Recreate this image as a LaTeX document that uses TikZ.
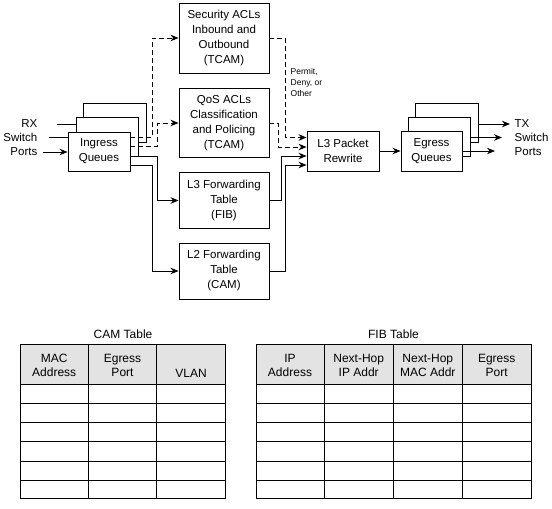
\documentclass[tikz,border=0pt]{standalone}
\usepackage{fontspec}
\setmainfont{Liberation Sans}
\usetikzlibrary{arrows.meta}
\begin{document}
\begin{tikzpicture}[x=1pt,y=-1pt,
  ln/.style={line width=0.9pt},
  box/.style={draw,line width=0.9pt,fill=white,align=center,inner sep=0pt,font=\fontsize{11.5}{15}\selectfont},
  blank/.style={draw,line width=0.9pt,fill=white,inner sep=0pt},
  arr/.style={-{Stealth[length=8pt,width=6.5pt]}},
  dsh/.style={dash pattern=on 5pt off 3pt},
  lbl/.style={font=\fontsize{11.5}{14}\selectfont,inner sep=0pt},
  hdr/.style={font=\fontsize{12}{14.5}\selectfont,align=center,inner sep=0pt},
]
\useasboundingbox (0,0) rectangle (552,509);

% ---- ingress queues
\node[blank,minimum width=63pt,minimum height=39pt] (ing3) at (114.5,122.5) {};
\node[blank,minimum width=62pt,minimum height=39pt] (ing2) at (107,136.5) {};
\node[box,minimum width=62pt,minimum height=39pt] (ing) at (99,151.5) {Ingress\\Queues};

% ---- egress queues
\node[blank,minimum width=63pt,minimum height=39pt] (egr3) at (446.5,122.5) {};
\node[blank,minimum width=62pt,minimum height=39pt] (egr2) at (439,136.5) {};
\node[box,minimum width=61pt,minimum height=40pt] (egr) at (431.5,151) {Egress\\Queues};

% ---- function boxes
\node[box,minimum width=90pt,minimum height=70pt] (sec) at (224,38) {Security ACLs\\Inbound and\\Outbound\\(TCAM)};
\node[box,minimum width=90pt,minimum height=69pt] (qos) at (224,123) {QoS ACLs\\Classification\\and Policing\\(TCAM)};
\node[box,minimum width=90pt,minimum height=56pt] (l3f) at (224,200.5) {L3 Forwarding\\Table\\(FIB)};
\node[box,minimum width=90pt,minimum height=56pt] (l2f) at (224,271) {L2 Forwarding\\Table\\(CAM)};
\node[box,minimum width=72pt,minimum height=40pt] (rw) at (343,151) {L3 Packet\\Rewrite};

% ---- side labels
\node[lbl,align=right,anchor=east] (rx) at (37.5,138) {RX\\Switch\\Ports};
\node[lbl,align=left,anchor=west] (tx) at (514.5,138) {TX\\Switch\\Ports};
\node[font=\fontsize{8.5}{10.8}\selectfont,align=left,anchor=west,inner sep=0pt] (pdo) at (290.5,82.5) {Permit,\\Deny, or\\Other};

% ---- inputs
\coordinate (rx1) at (57,124);
\coordinate (rx2) at (49,137.5);
\coordinate (rx3) at (43,152);
\draw[ln] (rx1) -- (ing2.west |- rx1);
\draw[ln] (rx2) -- (ing.west |- rx2);
\draw[ln,arr] (rx3) -- (ing.west |- rx3);

% ---- ingress to tables
\coordinate (a1) at (152,38);
\coordinate (a2) at (157.5,123);
\coordinate (a3) at (157,200.5);
\coordinate (a4) at (152,271);
\draw[ln,dsh,arr] (ing.east |- 0,137.5) -| (a1) -- (sec.west);
\draw[ln,dsh,arr] (ing.east |- 0,146.5) -| (a2) -- (qos.west);
\draw[ln,arr] (ing.east |- 0,156.5) -| (a3) -- (l3f.west);
\draw[ln,arr] (ing.east |- 0,165) -| (a4) -- (l2f.west);

% ---- tables to rewrite
\coordinate (b1) at (285.5,137.5);
\coordinate (b2) at (278,147);
\coordinate (b3) at (281.5,156);
\coordinate (b4) at (285.5,165);
\draw[ln,dsh,arr] (sec.east) -| (b1) -- (rw.west |- b1);
\draw[ln,dsh,arr] (qos.east) -| (b2) -- (rw.west |- b2);
\draw[ln,arr] (l3f.east) -| (b3) -- (rw.west |- b3);
\draw[ln,arr] (l2f.east) -| (b4) -- (rw.west |- b4);

% ---- rewrite to egress
\draw[ln,arr] (rw.east) -- (egr.west);

% ---- outputs
\coordinate (tx1) at (510,124);
\coordinate (tx2) at (502,137.5);
\coordinate (tx3) at (495,151);
\draw[ln,arr] (egr3.east |- tx1) -- (tx1);
\draw[ln,arr] (egr2.east |- tx2) -- (tx2);
\draw[ln,arr] (egr.east |- tx3) -- (tx3);

% ---- CAM table
\node[hdr] (camt) at (123,334) {CAM Table};
\fill[gray!22] (20,344.3) rectangle (225.3,384);
\draw[ln] (20,344.3) rectangle (225.3,498.3);
\foreach \yy in {384,403.3,422.3,441.7,461,480}
  \draw[ln] (20,\yy) -- (225.3,\yy);
\foreach \xx in {88.3,156.7}
  \draw[ln] (\xx,344.3) -- (\xx,498.3);
\node[hdr] (c1) at (54.2,365.5) {MAC\\Address};
\node[hdr] (c2) at (122.5,365.5) {Egress\\Port};
\node[hdr] (c3) at (191,373) {VLAN};

% ---- FIB table
\node[hdr] (fibt) at (393.5,334) {FIB Table};
\fill[gray!22] (256,344.3) rectangle (531,384);
\draw[ln] (256,344.3) rectangle (531,498.3);
\foreach \yy in {384,403.3,422.3,441.7,461,480}
  \draw[ln] (256,\yy) -- (531,\yy);
\foreach \xx in {324,393.3,462.3}
  \draw[ln] (\xx,344.3) -- (\xx,498.3);
\node[hdr] (f1) at (290,365.5) {IP\\Address};
\node[hdr] (f2) at (358.7,365.5) {Next-Hop\\IP Addr};
\node[hdr] (f3) at (427.8,365.5) {Next-Hop\\MAC Addr};
\node[hdr] (f4) at (496.7,365.5) {Egress\\Port};
\end{tikzpicture}
\end{document}
